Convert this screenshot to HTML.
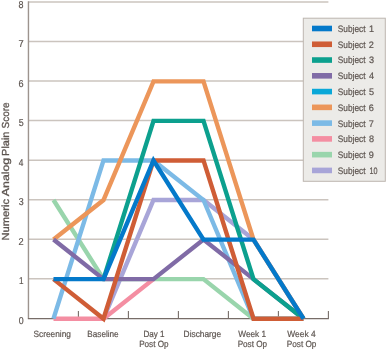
<!DOCTYPE html>
<html><head><meta charset="utf-8"><title>Numeric Analog Plain Score</title>
<style>
html,body{margin:0;padding:0;background:#fff;}
body{width:387px;height:349px;overflow:hidden;}
svg{display:block;}
text{text-rendering:geometricPrecision;font-family:"Liberation Sans",Arial,sans-serif;fill:#5d5550;stroke:#5d5550;stroke-width:0.2px;}
text.t{stroke-width:0.3px;}
</style></head><body>
<svg width="387" height="349" viewBox="0 0 387 349">
<line x1="28.45" y1="278.84" x2="328.4" y2="278.84" stroke="#cbc4be" stroke-width="1.5"/>
<line x1="28.45" y1="239.28" x2="328.4" y2="239.28" stroke="#cbc4be" stroke-width="1.5"/>
<line x1="28.45" y1="199.72" x2="328.4" y2="199.72" stroke="#cbc4be" stroke-width="1.5"/>
<line x1="28.45" y1="160.16" x2="328.4" y2="160.16" stroke="#cbc4be" stroke-width="1.5"/>
<line x1="28.45" y1="120.60" x2="328.4" y2="120.60" stroke="#cbc4be" stroke-width="1.5"/>
<line x1="28.45" y1="81.04" x2="328.4" y2="81.04" stroke="#cbc4be" stroke-width="1.5"/>
<line x1="28.45" y1="41.48" x2="328.4" y2="41.48" stroke="#cbc4be" stroke-width="1.5"/>
<line x1="28.45" y1="1.92" x2="328.4" y2="1.92" stroke="#cbc4be" stroke-width="1.5"/>
<line x1="28.45" y1="1.32" x2="28.45" y2="318.60" stroke="#9d948e" stroke-width="1.4"/>
<line x1="27.85" y1="318.60" x2="328.9" y2="318.60" stroke="#776d68" stroke-width="1.2"/>
<line x1="78.40" y1="311.10" x2="78.40" y2="318.60" stroke="#776d68" stroke-width="1.1"/>
<line x1="128.40" y1="311.10" x2="128.40" y2="318.60" stroke="#776d68" stroke-width="1.1"/>
<line x1="178.40" y1="311.10" x2="178.40" y2="318.60" stroke="#776d68" stroke-width="1.1"/>
<line x1="228.40" y1="311.10" x2="228.40" y2="318.60" stroke="#776d68" stroke-width="1.1"/>
<line x1="278.40" y1="311.10" x2="278.40" y2="318.60" stroke="#776d68" stroke-width="1.1"/>
<line x1="328.40" y1="311.10" x2="328.40" y2="318.60" stroke="#776d68" stroke-width="1.1"/>
<text x="18.66" y="324.00" font-size="10.0" textLength="4.89" lengthAdjust="spacingAndGlyphs">0</text>
<text x="18.88" y="284.44" font-size="10.0" textLength="4.51" lengthAdjust="spacingAndGlyphs">1</text>
<text x="18.54" y="244.88" font-size="10.0" textLength="5.13" lengthAdjust="spacingAndGlyphs">2</text>
<text x="18.66" y="205.32" font-size="10.0" textLength="4.93" lengthAdjust="spacingAndGlyphs">3</text>
<text x="18.81" y="165.76" font-size="10.0" textLength="4.64" lengthAdjust="spacingAndGlyphs">4</text>
<text x="18.65" y="126.20" font-size="10.0" textLength="4.93" lengthAdjust="spacingAndGlyphs">5</text>
<text x="18.54" y="86.64" font-size="10.0" textLength="5.06" lengthAdjust="spacingAndGlyphs">6</text>
<text x="18.53" y="47.08" font-size="10.0" textLength="5.14" lengthAdjust="spacingAndGlyphs">7</text>
<text x="18.61" y="7.52" font-size="10.0" textLength="4.98" lengthAdjust="spacingAndGlyphs">8</text>
<polyline points="103.50,318.70 153.50,200.02 203.50,200.02 253.50,239.58 303.50,318.70" fill="none" stroke="#a8a5d8" stroke-width="4.4" stroke-linejoin="miter" stroke-linecap="butt"/>
<polyline points="53.50,200.02 103.50,279.14 153.50,279.14 203.50,279.14 253.50,318.70 303.50,318.70" fill="none" stroke="#99d5ac" stroke-width="4.4" stroke-linejoin="miter" stroke-linecap="butt"/>
<polyline points="53.50,318.70 103.50,318.70 153.50,279.14" fill="none" stroke="#f48ea2" stroke-width="4.4" stroke-linejoin="miter" stroke-linecap="butt"/>
<polyline points="53.50,318.70 103.50,160.46 153.50,160.46 203.50,200.02 253.50,318.70 303.50,318.70" fill="none" stroke="#7cbae6" stroke-width="4.4" stroke-linejoin="miter" stroke-linecap="butt"/>
<polyline points="53.50,239.58 103.50,200.02 153.50,81.34 203.50,81.34 253.50,239.58 303.50,318.70" fill="none" stroke="#ec965a" stroke-width="4.4" stroke-linejoin="miter" stroke-linecap="butt"/>
<polyline points="53.50,239.58 103.50,279.14 153.50,279.14 203.50,239.58 253.50,279.14 303.50,318.70" fill="none" stroke="#806ba6" stroke-width="4.4" stroke-linejoin="miter" stroke-linecap="butt"/>
<polyline points="103.50,279.14 153.50,120.90 203.50,120.90 253.50,279.14 303.50,318.70" fill="none" stroke="#0ca08e" stroke-width="4.4" stroke-linejoin="miter" stroke-linecap="butt"/>
<polyline points="53.50,279.14 103.50,318.70 153.50,160.46 203.50,160.46 253.50,318.70 303.50,318.70" fill="none" stroke="#cf5d36" stroke-width="4.4" stroke-linejoin="miter" stroke-linecap="butt"/>
<polyline points="53.50,279.14 103.50,279.14 153.50,160.46 203.50,239.58 253.50,239.58 303.50,318.70" fill="none" stroke="#0479ca" stroke-width="4.4" stroke-linejoin="miter" stroke-linecap="butt"/>
<text x="33.52" y="336.80" font-size="9.0" textLength="37.41" lengthAdjust="spacingAndGlyphs">Screening</text>
<text x="87.33" y="336.80" font-size="9.0" textLength="31.33" lengthAdjust="spacingAndGlyphs">Baseline</text>
<text x="143.44" y="336.80" font-size="9.0" textLength="21.05" lengthAdjust="spacingAndGlyphs">Day 1</text>
<text x="139.13" y="346.90" font-size="9.0" textLength="29.51" lengthAdjust="spacingAndGlyphs">Post Op</text>
<text x="183.62" y="336.80" font-size="9.0" textLength="37.55" lengthAdjust="spacingAndGlyphs">Discharge</text>
<text x="238.26" y="336.80" font-size="9.0" textLength="27.84" lengthAdjust="spacingAndGlyphs">Week 1</text>
<text x="237.63" y="346.90" font-size="9.0" textLength="29.51" lengthAdjust="spacingAndGlyphs">Post Op</text>
<text x="287.36" y="336.80" font-size="9.0" textLength="28.28" lengthAdjust="spacingAndGlyphs">Week 4</text>
<text x="286.73" y="346.90" font-size="9.0" textLength="29.72" lengthAdjust="spacingAndGlyphs">Post Op</text>
<g transform="translate(8.7,240) rotate(-90)"><text class="t" x="-0.52" y="0" font-size="10.2" textLength="41.61" lengthAdjust="spacingAndGlyphs">Numeric</text><text class="t" x="43.88" y="0" font-size="10.2" textLength="38.32" lengthAdjust="spacingAndGlyphs">Analog</text><text class="t" x="84.10" y="0" font-size="10.2" textLength="24.31" lengthAdjust="spacingAndGlyphs">Plain</text><text class="t" x="111.55" y="0" font-size="10.2" textLength="25.99" lengthAdjust="spacingAndGlyphs">Score</text></g>
<rect x="303.3" y="18.2" width="82" height="163.1" fill="#ecebe8" stroke="#bdb6b0" stroke-width="1"/>
<rect x="312" y="25.70" width="20" height="5.6" fill="#0479ca"/>
<rect x="312" y="41.47" width="20" height="5.6" fill="#cf5d36"/>
<rect x="312" y="57.24" width="20" height="5.6" fill="#0ca08e"/>
<rect x="312" y="73.01" width="20" height="5.6" fill="#806ba6"/>
<rect x="312" y="88.78" width="20" height="5.6" fill="#0aa8d8"/>
<rect x="312" y="104.55" width="20" height="5.6" fill="#ec965a"/>
<rect x="312" y="120.32" width="20" height="5.6" fill="#7cbae6"/>
<rect x="312" y="136.09" width="20" height="5.6" fill="#f48ea2"/>
<rect x="312" y="151.86" width="20" height="5.6" fill="#99d5ac"/>
<rect x="312" y="167.63" width="20" height="5.6" fill="#a8a5d8"/>
<text x="337.82" y="31.80" font-size="9.4" textLength="27.64" lengthAdjust="spacingAndGlyphs">Subject</text>
<text x="368.91" y="31.80" font-size="9.4" textLength="5.07" lengthAdjust="spacingAndGlyphs">1</text>
<text x="337.82" y="47.60" font-size="9.4" textLength="27.64" lengthAdjust="spacingAndGlyphs">Subject</text>
<text x="368.84" y="47.60" font-size="9.4" textLength="5.07" lengthAdjust="spacingAndGlyphs">2</text>
<text x="337.82" y="63.40" font-size="9.4" textLength="27.64" lengthAdjust="spacingAndGlyphs">Subject</text>
<text x="368.95" y="63.40" font-size="9.4" textLength="5.07" lengthAdjust="spacingAndGlyphs">3</text>
<text x="337.82" y="79.20" font-size="9.4" textLength="27.64" lengthAdjust="spacingAndGlyphs">Subject</text>
<text x="369.09" y="79.20" font-size="9.4" textLength="5.07" lengthAdjust="spacingAndGlyphs">4</text>
<text x="337.82" y="95.00" font-size="9.4" textLength="27.64" lengthAdjust="spacingAndGlyphs">Subject</text>
<text x="368.93" y="95.00" font-size="9.4" textLength="5.07" lengthAdjust="spacingAndGlyphs">5</text>
<text x="337.82" y="110.80" font-size="9.4" textLength="27.64" lengthAdjust="spacingAndGlyphs">Subject</text>
<text x="368.84" y="110.80" font-size="9.4" textLength="5.07" lengthAdjust="spacingAndGlyphs">6</text>
<text x="337.82" y="126.60" font-size="9.4" textLength="27.64" lengthAdjust="spacingAndGlyphs">Subject</text>
<text x="368.83" y="126.60" font-size="9.4" textLength="5.07" lengthAdjust="spacingAndGlyphs">7</text>
<text x="337.82" y="142.40" font-size="9.4" textLength="27.64" lengthAdjust="spacingAndGlyphs">Subject</text>
<text x="368.90" y="142.40" font-size="9.4" textLength="5.07" lengthAdjust="spacingAndGlyphs">8</text>
<text x="337.82" y="158.20" font-size="9.4" textLength="27.64" lengthAdjust="spacingAndGlyphs">Subject</text>
<text x="368.87" y="158.20" font-size="9.4" textLength="5.07" lengthAdjust="spacingAndGlyphs">9</text>
<text x="337.82" y="174.00" font-size="9.4" textLength="27.64" lengthAdjust="spacingAndGlyphs">Subject</text>
<text x="369.55" y="174.00" font-size="9.4" textLength="8.03" lengthAdjust="spacingAndGlyphs">10</text>
</svg>
</body></html>
